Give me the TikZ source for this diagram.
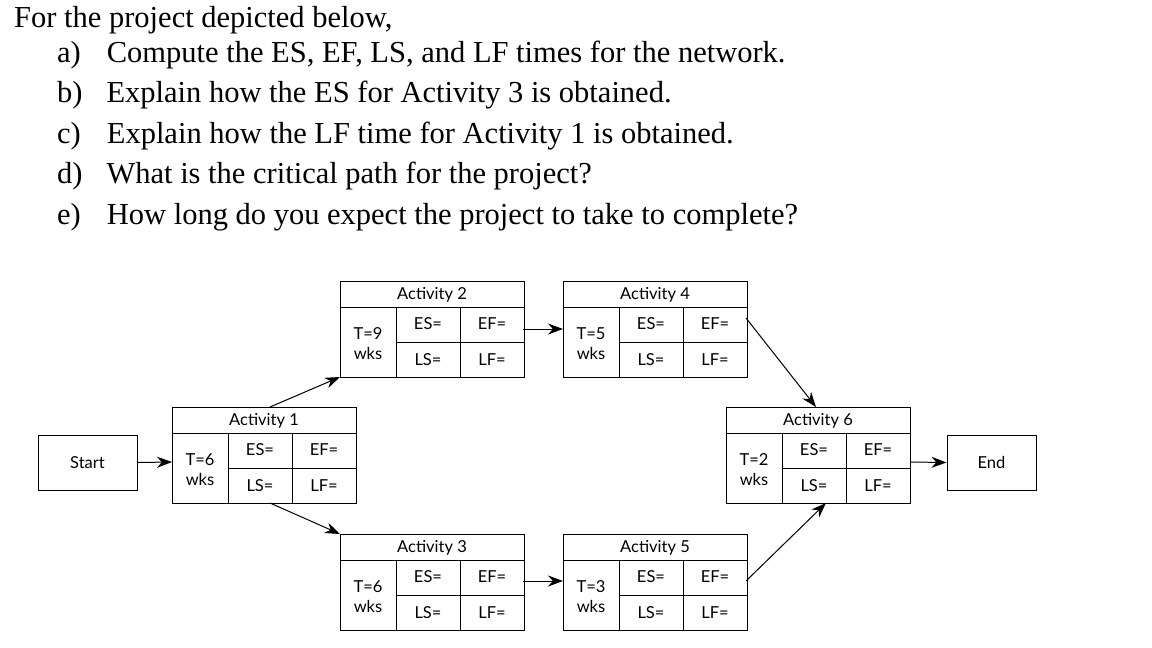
\documentclass[tikz,border=0pt]{standalone}
\usepackage{fontspec}
\setmainfont{Liberation Serif}
\newfontfamily\boxfont{Lato}
\usetikzlibrary{arrows.meta}
\begin{document}
\begin{tikzpicture}[x=1pt,y=-1pt,
  ln/.style={draw=black,line width=1pt},
  arr/.style={ln,-{Stealth[length=15pt,width=11pt]}},
  txt/.style={font=\boxfont\fontsize{16.5}{19}\selectfont,inner sep=0pt},
  q/.style={anchor=base west,inner sep=0pt,font=\fontsize{30.5}{33}\selectfont}]
\useasboundingbox (0,0) rectangle (1152,648);
\node[q] (h) at (14,27) {For the project depicted below,};
\node[q] (la) at (57,62) {a)\hspace{26pt}Compute the ES, EF, LS, and LF times for the network.};
\node[q] (lb) at (57,102) {b)\hspace{24pt}Explain how the ES for Activity 3 is obtained.};
\node[q] (lc) at (57,143) {c)\hspace{26pt}Explain how the LF time for Activity 1 is obtained.};
\node[q] (ld) at (57,183) {d)\hspace{24pt}What is the critical path for the project?};
\node[q] (le) at (57,224) {e)\hspace{26pt}How long do you expect the project to take to complete?};
\newcommand\actbox[5]{% name, x, y, title, T
  \begin{scope}[shift={(#2,#3)}]
  \draw[ln] (0,0) rectangle (184,96) coordinate (#1-br);
  \draw[ln] (0,26) -- (184,26) (56,26) -- (56,96) (120,26) -- (120,96) (56,61) -- (184,61);
  \node[txt] (#1-t) at (92,14) {#4};
  \node[txt,align=center] (#1-T) at (28,63) {T=#5\\[1pt]wks};
  \node[txt] (#1-es) at (88,43) {ES=};
  \node[txt] (#1-ef) at (152,43) {EF=};
  \node[txt] (#1-ls) at (88,79) {LS=};
  \node[txt] (#1-lf) at (152,79) {LF=};
  \end{scope}}
\actbox{a1}{172}{407}{Activity 1}{6}
\actbox{a2}{340}{281}{Activity 2}{9}
\actbox{a4}{563}{281}{Activity 4}{5}
\actbox{a3}{340}{534}{Activity 3}{6}
\actbox{a5}{563}{534}{Activity 5}{3}
\actbox{a6}{726}{407}{Activity 6}{2}
\node[ln,txt,minimum width=99pt,minimum height=55pt] (st) at (87.5,462.5) {Start};
\node[ln,txt,minimum width=89pt,minimum height=55pt] (en) at (991.5,462.5) {End};
\coordinate (p1) at (270,407); \coordinate (p2) at (340,377);
\coordinate (p3) at (270,503); \coordinate (p4) at (340,534);
\coordinate (p5) at (746,318); \coordinate (p6) at (816,407);
\coordinate (p7) at (746,581); \coordinate (p8) at (826,503);
\draw[arr] (st.east) -- (172,462);
\draw[arr] (p1) -- (p2);
\draw[arr] (p3) -- (p4);
\draw[arr] (523,329) -- (563,329);
\draw[arr] (523,581) -- (563,581);
\draw[arr] (p5) -- (p6);
\draw[arr] (p7) -- (p8);
\draw[arr] (910,462) -- (en.west);
\end{tikzpicture}
\end{document}
